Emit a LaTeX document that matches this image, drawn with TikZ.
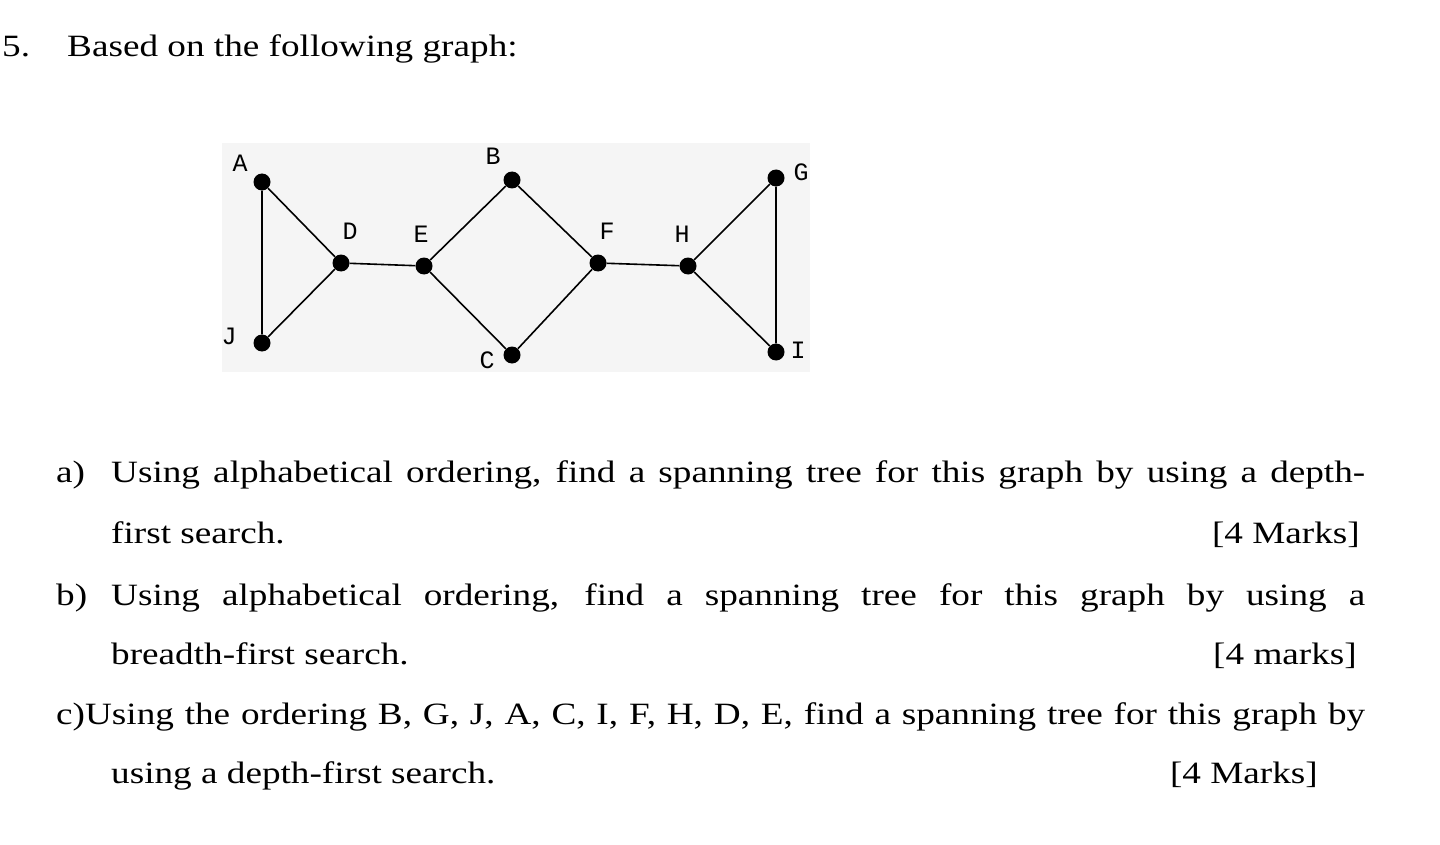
\documentclass[tikz,border=0pt]{standalone}
\usepackage{fontspec}
\setmainfont{Liberation Serif}[FakeStretch=1.2]
\newfontfamily\lblfont{Liberation Mono}
\begin{document}
\begin{tikzpicture}[x=1pt,y=-1pt,
  txt/.style={anchor=base west,inner sep=0pt,font=\fontsize{31}{31}\selectfont},
  txtr/.style={anchor=base east,inner sep=0pt,font=\fontsize{31}{31}\selectfont},
  vtx/.style={circle,fill=black,inner sep=0pt,minimum size=17pt},
  lbl/.style={font=\lblfont\fontsize{25}{25}\selectfont,inner sep=0pt},
  edge/.style={line width=1.6pt}]
\useasboundingbox (0,0) rectangle (1440,845);
\fill[white] (0,0) rectangle (1440,845);
\fill[gray!8] (222,143) rectangle (810,372);
\node[vtx] (A) at (262,182) {};
\node[vtx] (J) at (262,343) {};
\node[vtx] (D) at (341,263) {};
\node[vtx] (E) at (424,266) {};
\node[vtx] (B) at (512,180) {};
\node[vtx] (C) at (512,355) {};
\node[vtx] (F) at (598,263) {};
\node[vtx] (H) at (688,266) {};
\node[vtx] (G) at (776,178) {};
\node[vtx] (I) at (776,352) {};
\draw[edge] (A)--(J) (A)--(D) (J)--(D) (D)--(E) (E)--(B) (E)--(C) (B)--(F) (C)--(F) (F)--(H) (H)--(G) (H)--(I) (G)--(I);
\node[lbl] (lA) at (240,163) {A};
\node[lbl] (lB) at (493,156) {B};
\node[lbl] (lD) at (350,231) {D};
\node[lbl] (lE) at (421,234) {E};
\node[lbl] (lF) at (607,231) {F};
\node[lbl] (lH) at (682,234) {H};
\node[lbl] (lG) at (801,172) {G};
\node[lbl] (lJ) at (229,336) {J};
\node[lbl] (lC) at (487,360) {C};
\node[lbl] (lI) at (798,350) {I};
\node[txt] (n5) at (2,57) {5.};
\node[txt] (t0) at (67,57) {Based on the following graph:};
\node[txt] (la) at (56,482) {a)};
\node[txt] (ta1) at (111,482) {\makebox[1254pt][s]{Using alphabetical ordering, find a spanning tree for this graph by using a depth-}};
\node[txt] (ta2) at (111,543) {first search.};
\node[txtr] (ma) at (1360,543) {[4 Marks]};
\node[txt] (lb) at (56,605) {b)};
\node[txt] (tb1) at (111,605) {\makebox[1254pt][s]{Using alphabetical ordering, find a spanning tree for this graph by using a}};
\node[txt] (tb2) at (111,664) {breadth-first search.};
\node[txtr] (mb) at (1357,664) {[4 marks]};
\node[txt] (tc1) at (56,724) {\makebox[1309pt][s]{c)Using the ordering B, G, J, A, C, I, F, H, D, E, find a spanning tree for this graph by}};
\node[txt] (tc2) at (111,783) {using a depth-first search.};
\node[txtr] (mc) at (1318,783) {[4 Marks]};
\end{tikzpicture}
\end{document}
